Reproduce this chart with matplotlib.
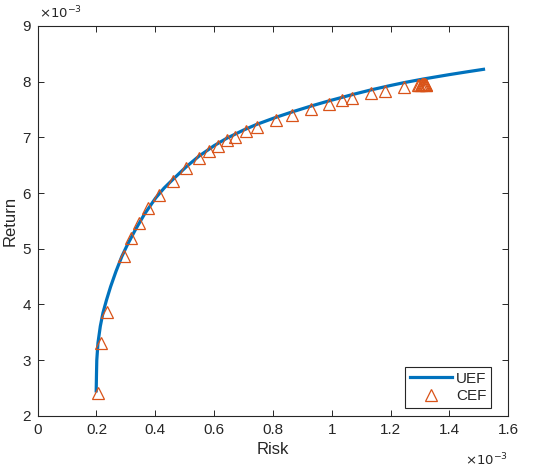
import matplotlib
matplotlib.use("Agg")
import matplotlib.pyplot as plt

plt.rcParams["font.family"] = ["Liberation Sans", "DejaVu Sans"]

# values in units of 1e-3
uef_risk = [0.199, 0.200, 0.201, 0.205, 0.213, 0.222, 0.234, 0.248, 0.266, 0.286,
            0.304, 0.331, 0.363, 0.401, 0.430, 0.459, 0.505, 0.548, 0.600, 0.642,
            0.700, 0.744, 0.811, 0.865, 0.929, 0.988, 1.069, 1.133, 1.200, 1.245,
            1.310, 1.400, 1.460, 1.516]
uef_ret = [2.45, 2.75, 3.00, 3.31, 3.61, 3.85, 4.08, 4.32, 4.59, 4.86,
           5.06, 5.33, 5.62, 5.91, 6.09, 6.24, 6.47, 6.66, 6.85, 6.98,
           7.13, 7.23, 7.36, 7.455, 7.56, 7.65, 7.765, 7.85, 7.93, 7.98,
           8.045, 8.125, 8.175, 8.22]

cef_risk = [0.205, 0.215, 0.235, 0.292, 0.318, 0.344, 0.376, 0.412, 0.459, 0.505,
            0.548, 0.583, 0.613, 0.643, 0.671, 0.709, 0.746, 0.811, 0.865, 0.929,
            0.989, 1.034, 1.069, 1.133, 1.180, 1.246,
            1.294, 1.298, 1.302, 1.306, 1.310, 1.313, 1.316, 1.319, 1.322]
cef_ret = [2.405, 3.315, 3.865, 4.87, 5.19, 5.465, 5.725, 5.962, 6.22, 6.455,
           6.63, 6.755, 6.85, 6.943, 7.01, 7.11, 7.186, 7.317, 7.405, 7.514,
           7.603, 7.665, 7.71, 7.795, 7.836, 7.902,
           7.935, 7.94, 7.945, 7.95, 7.955, 7.952, 7.948, 7.944, 7.94]

xticks = [0, 0.2, 0.4, 0.6, 0.8, 1.0, 1.2, 1.4, 1.6]
xtick_labels = ["0", "0.2", "0.4", "0.6", "0.8", "1", "1.2", "1.4", "1.6"]
yticks = [2, 3, 4, 5, 6, 7, 8, 9]

blue = "#0072BD"
orange = "#D95319"
dark = "#262626"

fig = plt.figure(figsize=(5.5, 4.7), dpi=100)
ax = fig.add_axes([0.0685, 0.115, 0.8555, 0.83])

ax.plot(uef_risk, uef_ret, color=blue, lw=2.3, label="UEF", zorder=2)
ax.plot(cef_risk, cef_ret, ls="none", marker="^", ms=8.5, mfc="none",
        mec=orange, mew=0.9, label="CEF", zorder=3)

ax.set_xlim(0, 1.6)
ax.set_ylim(2, 9)
ax.set_xticks(xticks)
ax.set_xticklabels(xtick_labels)
ax.set_yticks(yticks)
ax.tick_params(direction="in", length=4, width=0.7, colors=dark,
               labelsize=11, top=True, right=True, pad=5)
for s in ax.spines.values():
    s.set_color(dark)
    s.set_linewidth(0.8)

ax.set_xlabel("Risk", fontsize=12, color=dark, labelpad=4)
ax.set_ylabel("Return", fontsize=12, color=dark, labelpad=3)

fig.text(0.071, 0.955, r"$\times 10^{-3}$", fontsize=9.5, color=dark,
         ha="left", va="bottom")
fig.text(0.924, 0.004, r"$\times 10^{-3}$", fontsize=9.5, color=dark,
         ha="right", va="bottom")

leg = ax.legend(loc="lower right", bbox_to_anchor=(0.964, 0.0205),
                borderaxespad=0, fontsize=11, fancybox=False, framealpha=1,
                edgecolor=dark, borderpad=0.3, handlelength=2.75,
                handletextpad=0.3, labelspacing=0.25)
leg.get_frame().set_linewidth(0.8)
for t in leg.get_texts():
    t.set_color(dark)

fig.savefig("out.png", dpi=100)
